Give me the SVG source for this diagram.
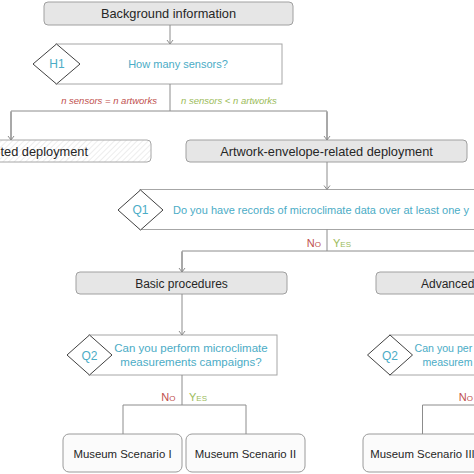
<svg xmlns="http://www.w3.org/2000/svg" width="474" height="474" viewBox="0 0 474 474">
<style>
text{font-family:"Liberation Sans",Arial,sans-serif;fill:#262626}
.hdr{fill:#e6e6e6;stroke:#a0a0a0;stroke-width:1}
.qbox{fill:#ffffff;stroke:#a6a6a6;stroke-width:1}
.dia{fill:#ffffff;stroke:#404040;stroke-width:1}
.mus{fill:#fbfbfb;stroke:#9a9a9a;stroke-width:1}
.q{fill:#4bacc6}
.ql{fill:#4bacc6;font-size:12px;text-anchor:middle}
.red{fill:#c0504d}
.grn{fill:#9bbb59}
.lab{font-size:9.5px;font-style:italic}
.sc{font-size:11px;font-variant:small-caps}
.con{fill:none;stroke:#8c8c8c;stroke-width:1}
</style>
<defs>
<marker id="arr" markerUnits="userSpaceOnUse" markerWidth="8" markerHeight="6" refX="4" refY="5" orient="0" viewBox="0 0 8 6">
<path d="M1,1 L4,5 L7,1" fill="none" stroke="#8c8c8c" stroke-width="1"/>
</marker>
<pattern id="hatch" patternUnits="userSpaceOnUse" width="4" height="4" patternTransform="rotate(45)">
<rect width="4" height="4" fill="#ffffff"/>
<line x1="0" y1="0" x2="0" y2="4" stroke="#dcdcdc" stroke-width="1"/>
</pattern>
</defs>
<rect width="474" height="474" fill="#ffffff"/>

<g id="background">
<rect class="hdr" x="44" y="2" width="249" height="23" rx="4"/>
<text x="168.5" y="18" font-size="12.8" text-anchor="middle">Background information</text>
</g>

<g id="h1">
<rect class="qbox" x="56" y="44" width="226" height="40"/>
<polygon class="dia" points="56.5,44 80,64 56.5,84 33,64"/>
<text class="ql" x="57" y="68">H1</text>
<text class="q" x="178" y="68" font-size="11" text-anchor="middle">How many sensors?</text>
</g>

<g id="branch-labels-h1">
<text class="lab red" x="157" y="103.5" text-anchor="end">n sensors = n artworks</text>
<text class="lab grn" x="181" y="103.5">n sensors &lt; n artworks</text>
</g>

<g id="artwork-related">
<rect x="-130" y="140" width="281" height="22" rx="4" fill="url(#hatch)" stroke="#a6a6a6"/>
<text x="0.5" y="155.5" font-size="12.8">ted deployment</text>
</g>

<g id="envelope-related">
<rect class="hdr" x="186" y="140" width="281" height="22" rx="4"/>
<text x="326.5" y="155.5" font-size="12.8" text-anchor="middle">Artwork-envelope-related deployment</text>
</g>

<g id="q1">
<rect class="qbox" x="140" y="189.5" width="360" height="40"/>
<polygon class="dia" points="140.5,190 163,210 140.5,230 118,210"/>
<text class="ql" x="140.5" y="214">Q1</text>
<text class="q" x="173" y="214" font-size="11">Do you have records of microclimate data over at least one y</text>
</g>

<g id="q1-labels">
<text class="sc red" x="321" y="246.5" text-anchor="end">No</text>
<text class="sc grn" x="333" y="246.5">Yes</text>
</g>

<g id="basic">
<rect class="hdr" x="76" y="272" width="211" height="22" rx="4"/>
<text x="181.5" y="287.5" font-size="12" text-anchor="middle">Basic procedures</text>
</g>

<g id="advanced">
<rect class="hdr" x="376" y="272" width="211" height="22" rx="4"/>
<text x="421" y="287.5" font-size="12">Advanced</text>
</g>

<g id="q2-basic">
<rect class="qbox" x="89" y="335" width="188" height="40"/>
<polygon class="dia" points="89.5,335 112,355 89.5,375 67,355"/>
<text class="ql" x="89.5" y="359.5">Q2</text>
<text class="q" x="191" y="352" font-size="11.5" text-anchor="middle">Can you perform microclimate</text>
<text class="q" x="191" y="366" font-size="11.5" text-anchor="middle">measurements campaigns?</text>
</g>

<g id="q2-basic-labels">
<text class="sc red" x="175.5" y="401" text-anchor="end">No</text>
<text class="sc grn" x="189" y="401">Yes</text>
</g>

<g id="q2-advanced">
<rect class="qbox" x="389.5" y="335" width="188" height="40"/>
<polygon class="dia" points="390,335 412.5,355 390,375 367.5,355"/>
<text class="ql" x="390" y="359.5">Q2</text>
<text class="q" x="414.5" y="352" font-size="10.6">Can you per</text>
<text class="q" x="422.5" y="366" font-size="10.6">measurem</text>
</g>

<g id="q2-advanced-labels">
<text class="sc red" x="473" y="401" text-anchor="end">No</text>
</g>

<g id="scenario-1">
<rect class="mus" x="63" y="434" width="119" height="38" rx="6"/>
<text x="122.5" y="458" font-size="11.4" text-anchor="middle">Museum Scenario I</text>
</g>

<g id="scenario-2">
<rect class="mus" x="186" y="434" width="119" height="38" rx="6"/>
<text x="245.5" y="458" font-size="11.4" text-anchor="middle">Museum Scenario II</text>
</g>

<g id="scenario-3">
<rect class="mus" x="363" y="434" width="119" height="38" rx="6"/>
<text x="422.5" y="458" font-size="11.4" text-anchor="middle">Museum Scenario III</text>
</g>

<g id="connectors">
<line class="con" x1="170" y1="25" x2="170" y2="44" marker-end="url(#arr)"/>
<line class="con" x1="170" y1="84" x2="170" y2="111"/>
<polyline class="con" points="11,140 11,111 327,111 327,140"/>
<line class="con" x1="11" y1="112" x2="11" y2="140" marker-end="url(#arr)"/>
<line class="con" x1="327" y1="112" x2="327" y2="140" marker-end="url(#arr)"/>
<line class="con" x1="327" y1="162" x2="327" y2="189.5" marker-end="url(#arr)"/>
<line class="con" x1="327" y1="229.5" x2="327" y2="251"/>
<polyline class="con" points="182,272 182,251 474,251"/>
<line class="con" x1="182" y1="252" x2="182" y2="272" marker-end="url(#arr)"/>
<line class="con" x1="182" y1="294" x2="182" y2="335" marker-end="url(#arr)"/>
<line class="con" x1="182" y1="375" x2="182" y2="405"/>
<polyline class="con" points="123,434 123,405 246,405 246,434"/>
<polyline class="con" points="422.5,434 422.5,405 474,405"/>
</g>
</svg>
